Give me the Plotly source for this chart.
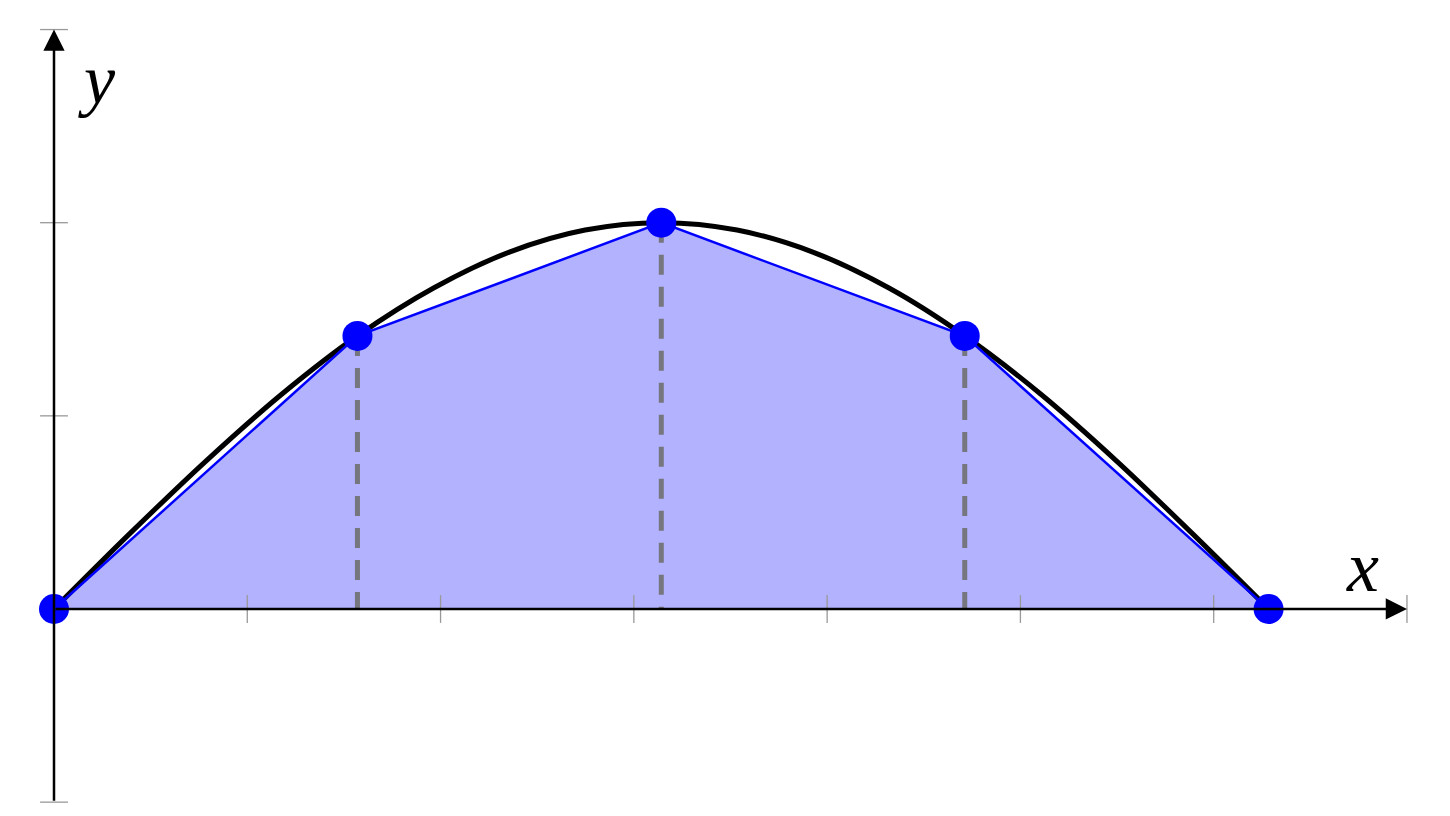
import plotly.graph_objects as go

# Curve samples (black curve)
curve_x = [0, 0.196, 0.393, 0.589, 0.785, 0.982, 1.178, 1.374, 1.571,
           1.767, 1.963, 2.160, 2.356, 2.553, 2.749, 2.945, 3.142]
curve_y = [0, 0.195, 0.383, 0.556, 0.707, 0.831, 0.924, 0.981, 1.0,
           0.981, 0.924, 0.831, 0.707, 0.556, 0.383, 0.195, 0]

# Sample points (blue dots)
pts_x = [0, 0.785, 1.571, 2.356, 3.142]
pts_y = [0, 0.707, 1.0, 0.707, 0]

# Tick positions
x_ticks = [0.5, 1.0, 1.5, 2.0, 2.5, 3.0, 3.5]
y_ticks = [-0.5, 0.5, 1.0, 1.5]

X_MIN, X_MAX = -0.119, 3.632
Y_MIN, Y_MAX = -0.5566, 1.5558
TICK_HALF = 0.036

fig = go.Figure()

# shaded trapezoid area
fig.add_trace(go.Scatter(x=pts_x, y=pts_y, fill="tozeroy", mode="none",
                         fillcolor="rgba(0,0,255,0.3)", hoverinfo="skip"))

# ticks
tx, ty = [], []
for t in x_ticks:
    tx += [t, t, None]
    ty += [-TICK_HALF, TICK_HALF, None]
for t in y_ticks:
    tx += [-TICK_HALF, TICK_HALF, None]
    ty += [t, t, None]
fig.add_trace(go.Scatter(x=tx, y=ty, mode="lines",
                         line=dict(color="#999999", width=1.3), hoverinfo="skip"))

# dashed verticals (drawn from the point downwards)
dx, dy = [], []
for px, py in zip(pts_x[1:-1], pts_y[1:-1]):
    dx += [px, px, None]
    dy += [py, 0, None]
fig.add_trace(go.Scatter(x=dx, y=dy, mode="lines",
                         line=dict(color="#76767e", width=5, dash="20px,12px"),
                         hoverinfo="skip"))

# black curve
fig.add_trace(go.Scatter(x=curve_x, y=curve_y, mode="lines", line_shape="spline",
                         line=dict(color="black", width=5), hoverinfo="skip"))

# blue polygon edges
fig.add_trace(go.Scatter(x=pts_x, y=pts_y, mode="lines",
                         line=dict(color="blue", width=2.5), hoverinfo="skip"))

# axes arrows
fig.add_annotation(x=3.5, y=0, ax=0, ay=0, axref="x", ayref="y", xref="x", yref="y",
                   text="", showarrow=True, arrowhead=2, arrowsize=1.7,
                   arrowwidth=2.5, arrowcolor="black", standoff=0)
fig.add_annotation(x=0, y=1.5, ax=0, ay=-0.5, axref="x", ayref="y", xref="x", yref="y",
                   text="", showarrow=True, arrowhead=2, arrowsize=1.7,
                   arrowwidth=2.5, arrowcolor="black", standoff=0)

# points
fig.add_trace(go.Scatter(x=pts_x, y=pts_y, mode="markers",
                         marker=dict(color="blue", size=30, line=dict(width=0)),
                         hoverinfo="skip"))

# axis labels
fig.add_annotation(x=0.112, y=1.37, xref="x", yref="y", text="<i>y</i>",
                   showarrow=False, font=dict(family="Liberation Serif", size=70, color="black"))
fig.add_annotation(x=3.385, y=0.11, xref="x", yref="y", text="<i>x</i>",
                   showarrow=False, font=dict(family="Liberation Serif", size=72, color="black"))

fig.update_layout(
    width=1450, height=816,
    margin=dict(l=0, r=0, t=0, b=0),
    paper_bgcolor="white", plot_bgcolor="white",
    showlegend=False,
    xaxis=dict(range=[X_MIN, X_MAX], visible=False, fixedrange=True),
    yaxis=dict(range=[Y_MIN, Y_MAX], visible=False, fixedrange=True),
)

fig.write_html("out.html")
